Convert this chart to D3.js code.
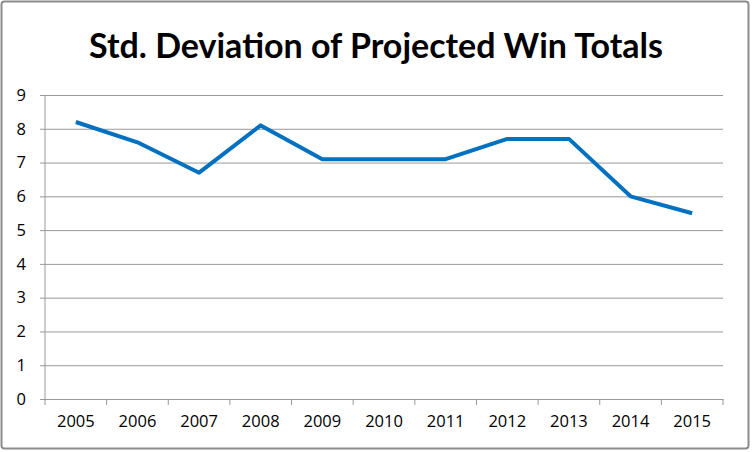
<!DOCTYPE html>
<html>
<head>
<meta charset="utf-8">
<script src="https://cdn.jsdelivr.net/npm/d3@7"></script>
<style>
  body { margin: 0; background: #fff; }
  text { font-family: "Open Sans", "Liberation Sans", sans-serif; }
</style>
</head>
<body>
<div id="chart"></div>
<script>
const years = ["2005", "2006", "2007", "2008", "2009", "2010", "2011", "2012", "2013", "2014", "2015"];
const stdDev = [8.2, 7.6, 6.7, 8.1, 7.1, 7.1, 7.1, 7.7, 7.7, 6.0, 5.5];
const yTicks = [0, 1, 2, 3, 4, 5, 6, 7, 8, 9];

const width = 752,
      height = 452,
      margin = ({ top: 95, right: 29, bottom: 53, left: 45 });

let svg = d3.select("#chart")
    .append("svg")
    .attr("width", width)
    .attr("height", height);

// outer chart border
svg.append("rect")
    .attr("x", 1.5).attr("y", 1.5)
    .attr("width", width - 5).attr("height", height - 5)
    .attr("rx", 3)
    .attr("fill", "#fff")
    .attr("stroke", "#8c8c8c")
    .attr("stroke-width", 2);

let x = d3.scaleBand()
    .domain(years)
    .range([margin.left, width - margin.right]);

let y = d3.scaleLinear()
    .domain([0, 9])
    .range([height - margin.bottom, margin.top]);

// gridlines + y axis
let yAxis = svg.append("g")
    .attr("transform", `translate(${margin.left},0)`)
    .call(d3.axisLeft(y).tickValues(yTicks).tickSize(5).tickPadding(14))
    .call(g => g.select(".domain").remove());

yAxis.selectAll(".tick line").attr("stroke", "#999");
yAxis.selectAll(".tick")
    .append("line")
    .attr("x2", width - margin.right - margin.left)
    .attr("stroke", "#999");
yAxis.selectAll("text")
    .style("font-size", "16.5px")
    .attr("fill", "#000");

svg.append("line") // vertical axis line
    .attr("x1", margin.left).attr("x2", margin.left)
    .attr("y1", margin.top).attr("y2", height - margin.bottom)
    .attr("stroke", "#999");

// x axis with ticks between categories
let xAxis = svg.append("g")
    .attr("transform", `translate(0,${height - margin.bottom})`)
    .call(d3.axisBottom(x).tickSize(0).tickPadding(16));
xAxis.select(".domain").attr("stroke", "#999");
xAxis.selectAll("text").style("font-size", "16.5px").attr("fill", "#000");

xAxis.selectAll(".sep")
    .data(years.concat("end"))
    .join("line")
    .attr("class", "sep")
    .attr("x1", (d, i) => i < years.length ? x(d) : x(years[years.length - 1]) + x.bandwidth())
    .attr("x2", (d, i) => i < years.length ? x(d) : x(years[years.length - 1]) + x.bandwidth())
    .attr("y1", 0).attr("y2", 6)
    .attr("stroke", "#999");

// the line
let line = d3.line()
    .x((d, i) => x(years[i]) + x.bandwidth() / 2)
    .y(d => y(d));

svg.append("path")
    .datum(stdDev)
    .attr("fill", "none")
    .attr("stroke", "#0070c0")
    .attr("stroke-width", 4)
    .attr("stroke-linejoin", "round")
    .attr("d", line);

svg.append("text") // title
    .attr("x", width / 2)
    .attr("y", 58)
    .attr("text-anchor", "middle")
    .style("font-family", "Lato, 'Open Sans', sans-serif")
    .style("font-size", "34px")
    .style("font-weight", "bold")
    .text("Std. Deviation of Projected Win Totals");
</script>
</body>
</html>
